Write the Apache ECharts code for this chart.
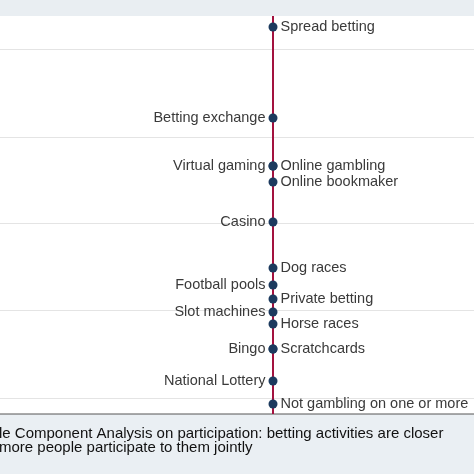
<!DOCTYPE html>
<html>
<head>
<meta charset="utf-8">
<script src="https://cdn.jsdelivr.net/npm/echarts@6/dist/echarts.min.js"></script>
<style>html,body{margin:0;padding:0;background:#fff}#c{width:474px;height:474px}</style>
</head>
<body>
<div id="c"></div>
<script>
  var names = ['Spread betting', 'Betting exchange', 'Virtual gaming', 'Online gambling', 'Online bookmaker',
    'Casino', 'Dog races', 'Football pools', 'Private betting', 'Slot machines', 'Horse races',
    'Bingo', 'Scratchcards', 'National Lottery', 'Not gambling on one or more'];
  var positions = [11, 102, 150, 150, 166, 206, 252, 269, 283, 296, 308, 333, 333, 365, 388];
  var sides = ['right', 'left', 'left', 'right', 'right', 'left', 'right', 'left', 'right', 'left', 'right',
    'left', 'right', 'left', 'right'];
  var gridLines = [33, 121, 207, 294, 382];

  var option = {
    animation: false,
    grid: { left: 0, right: 0, top: 16, bottom: 60 },
    xAxis: { type: 'value', min: -273, max: 201, show: false },
    yAxis: { type: 'value', min: 0, max: 398, inverse: true, show: false },
    graphic: [
      { type: 'rect', shape: { x: 0, y: 0, width: 474, height: 16 }, style: { fill: '#e9eef2' } },
      { type: 'rect', shape: { x: 0, y: 414, width: 474, height: 60 }, style: { fill: '#eaeff3' } },
      { type: 'line', shape: { x1: 0, y1: 414, x2: 474, y2: 414 }, style: { stroke: '#555', lineWidth: 1 } },
      { type: 'text', left: -1, top: 426, style: {
        text: 'le Component Analysis on participation: betting activities are closer\nmore people participate to them jointly',
        fill: '#111', font: '15px "Liberation Sans", Arial', lineHeight: 14 } }
    ],
    series: [{
      type: 'scatter',
      symbolSize: 9,
      itemStyle: { color: '#1c3a5e', opacity: 1 },
      data: positions.map(function(p, i) {
        return { value: [0, p], label: { show: true, position: sides[i], formatter: names[i],
          distance: 3, color: '#3a3a3a', fontSize: 14.5, fontFamily: 'Liberation Sans' } };
      }),
      markLine: {
        silent: true, symbol: 'none', label: { show: false },
        data: gridLines.map(function(g) { return { yAxis: g, lineStyle: { color: '#e4e4e4', width: 1, type: 'solid' } }; })
          .concat([[{ coord: [0, 0], lineStyle: { color: '#a3123f', width: 2, type: 'solid' } }, { coord: [0, 398] }]])
      },
      z: 5
    }]
  };
  var chart = echarts.init(document.getElementById('c'));
  chart.setOption(option);
</script>
</body>
</html>
